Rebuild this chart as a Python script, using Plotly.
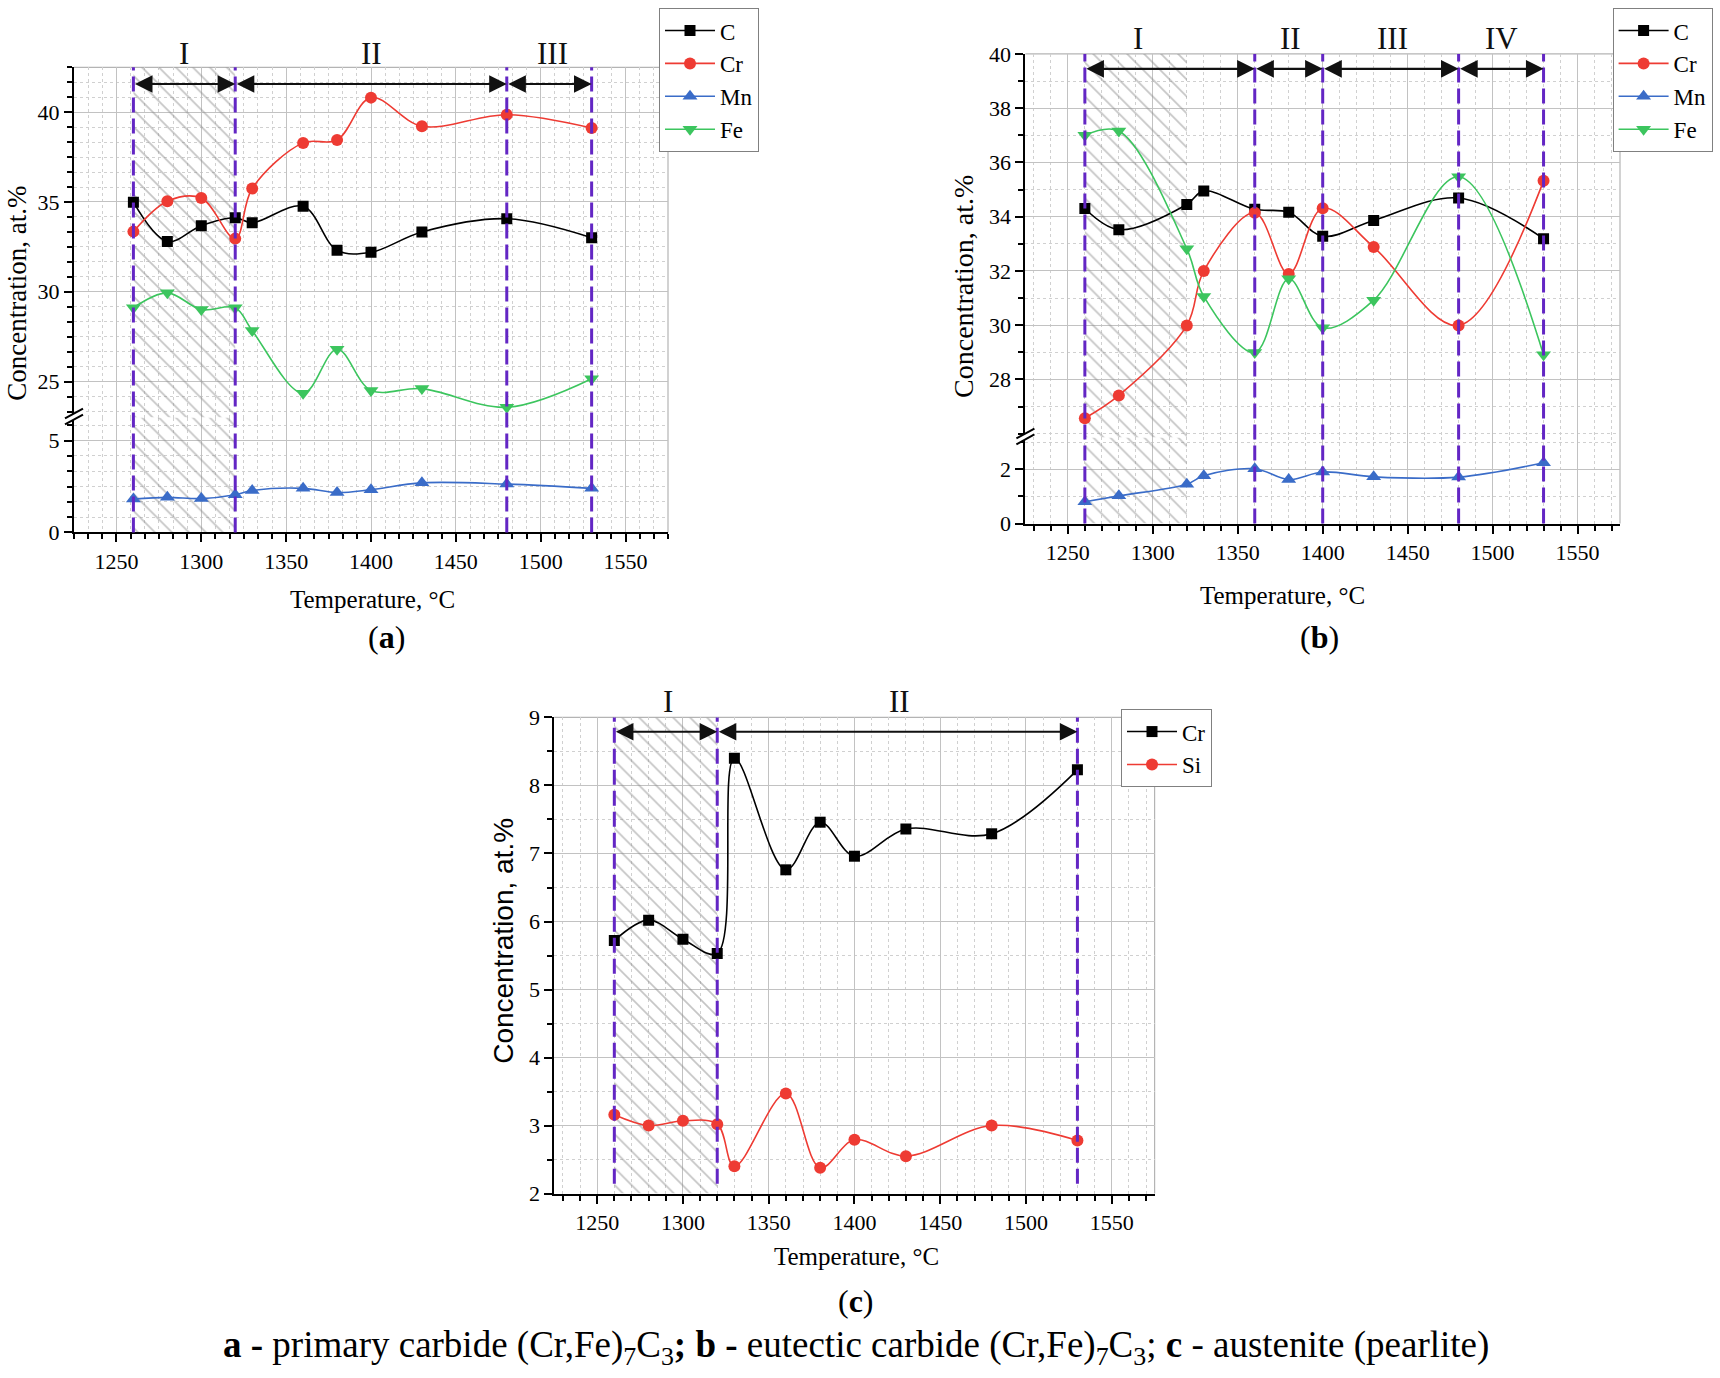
import plotly.graph_objects as go

W, H = 1720, 1378

# ---------------- data ----------------
temps_a = [1260, 1280, 1300, 1320, 1330, 1360, 1380, 1400, 1430, 1480, 1530]
C_a = [34.99, 32.80, 33.68, 34.12, 33.84, 34.76, 32.31, 32.20, 33.33, 34.07, 33.01]
Cr_a = [33.35, 35.04, 35.22, 32.96, 35.75, 38.29, 38.45, 40.81, 39.22, 39.86, 39.12]
Mn_a = [1.82, 1.91, 1.84, 2.05, 2.28, 2.40, 2.17, 2.33, 2.70, 2.63, 2.40]
Fe_a = [29.11, 29.94, 29.01, 29.11, 27.84, 24.35, 26.80, 24.51, 24.61, 23.57, 25.16]

temps_b = [1260, 1280, 1320, 1330, 1360, 1380, 1400, 1430, 1480, 1530]
C_b = [34.30, 33.52, 34.45, 34.95, 34.27, 34.16, 33.28, 33.86, 34.69, 33.19]
Cr_b = [26.57, 27.41, 29.99, 32.00, 34.14, 31.89, 34.31, 32.88, 29.99, 35.32]
Mn_b = [0.80, 1.02, 1.45, 1.76, 2.02, 1.62, 1.90, 1.72, 1.71, 2.24]
Fe_b = [37.00, 37.16, 32.82, 31.06, 28.99, 31.71, 29.90, 30.92, 35.47, 28.91]

temps_c = [1260, 1280, 1300, 1320, 1330, 1360, 1380, 1400, 1430, 1480, 1530]
Cr_c = [5.72, 6.02, 5.74, 5.53, 8.40, 6.76, 7.46, 6.96, 7.36, 7.29, 8.23]
Si_c = [3.16, 3.00, 3.07, 3.02, 2.40, 3.47, 2.38, 2.79, 2.55, 3.00, 2.78]

bounds_a = [1260, 1320, 1480, 1530]
stages_a = ["I", "II", "III"]
stage_x_a = [1290, 1400, 1507]
bounds_b = [1260, 1360, 1400, 1480, 1530]
stages_b = ["I", "II", "III", "IV"]
stage_x_b = [1291, 1381, 1441, 1505]
bounds_c = [1260, 1320, 1530]
stages_c = ["I", "II"]
stage_x_c = [1291, 1426]
hatch_span = [1260, 1320]

x_ticks = [1250, 1300, 1350, 1400, 1450, 1500, 1550]
y_ticks_a_up = [25, 30, 35, 40]
y_ticks_a_lo = [0, 5]
y_ticks_b_up = [28, 30, 32, 34, 36, 38, 40]
y_ticks_b_lo = [0, 2]
y_ticks_c = [2, 3, 4, 5, 6, 7, 8, 9]

# ---------------- style ----------------
SERIF = "Liberation Serif"
SANS = "Liberation Sans"
COL = {"C": "#000000", "Cr": "#EE3B33", "Mn": "#3A6CC8", "Fe": "#3CC55E", "Si": "#EE3B33"}
SYM = {"C": "square", "Cr": "circle", "Mn": "triangle-up", "Fe": "triangle-down", "Si": "circle"}
MSIZE = {"C": 11, "Cr": 12, "Mn": 13, "Fe": 13, "Si": 12}
PURPLE = "#6326C4"


def fx(p):
    return p / W


def fy(p):
    return 1 - p / H


XR = [1225, 1575]
# panel geometry (pixels)
A_x = [74, 668]
A_top, A_brk, A_bot = 56.3, 413, 530
A_up_rng, A_lo_rng = [23, 42.5], [0, 6.26]
B_x = [1025.4, 1620]
B_top, B_brk, B_bot = 42.7, 433.3, 521
B_up_rng, B_lo_rng = [25.86, 40], [0, 3.17]
C_x = [554.3, 1154.6]
C_top, C_bot = 718.5, 1203.4
C_rng = [2, 9]

tickfont = dict(family=SERIF, size=22, color="black")


def xax(dom, anchor, minor_dtick):
    return dict(domain=[fx(dom[0]), fx(dom[1])], range=XR, anchor=anchor,
                tickmode="array", tickvals=x_ticks, ticks="outside", ticklen=8,
                tickwidth=2, tickcolor="black", showline=True, linecolor="black",
                linewidth=2, showgrid=True, gridcolor="#c2c2c2", gridwidth=1,
                zeroline=False, tickfont=tickfont,
                minor=dict(tickmode="linear", tick0=1250, dtick=minor_dtick,
                           ticks="outside", ticklen=5, tickwidth=1.5,
                           tickcolor="black", showgrid=True, gridcolor="#d0d0d0",
                           griddash="dot", gridwidth=1))


def yax(top, bot, rng, tv, anchor, minor_dtick):
    return dict(domain=[fy(bot), fy(top)], range=rng, anchor=anchor,
                tickmode="array", tickvals=tv, ticks="outside", ticklen=8,
                tickwidth=2, tickcolor="black", showline=True, linecolor="black",
                linewidth=2, showgrid=True, gridcolor="#c2c2c2", gridwidth=1,
                zeroline=False, tickfont=tickfont,
                minor=dict(tickmode="linear", tick0=0, dtick=minor_dtick,
                           ticks="outside", ticklen=5, tickwidth=1.5,
                           tickcolor="black", showgrid=True, gridcolor="#d0d0d0",
                           griddash="dot", gridwidth=1))


fig = go.Figure()


def hatch(xa, ya, rng):
    h0, h1 = hatch_span
    fig.add_trace(go.Scatter(
        x=[h0, h1, h1, h0, h0], y=[rng[0], rng[0], rng[1], rng[1], rng[0]],
        xaxis=xa, yaxis=ya, mode="lines", line=dict(width=0),
        fill="toself", fillcolor="rgba(0,0,0,0)",
        fillpattern=dict(shape="\\", fgcolor="#8a8a8a", bgcolor="rgba(255,255,255,0)",
                         size=12, solidity=0.14),
        showlegend=False, hoverinfo="skip"))


def series(name, xs, ys, xa, ya, leg):
    fig.add_trace(go.Scatter(
        x=xs, y=ys, name=name, xaxis=xa, yaxis=ya, legend=leg,
        mode="lines+markers", line=dict(color=COL[name], width=1.6, shape="spline", smoothing=1.0),
        marker=dict(symbol=SYM[name], size=MSIZE[name], color=COL[name])))


# panel a
hatch("x", "y2", A_up_rng)
hatch("x", "y", A_lo_rng)
series("C", temps_a, C_a, "x", "y2", "legend")
series("Cr", temps_a, Cr_a, "x", "y2", "legend")
series("Mn", temps_a, Mn_a, "x", "y", "legend")
series("Fe", temps_a, Fe_a, "x", "y2", "legend")
# panel b
hatch("x2", "y4", B_up_rng)
hatch("x2", "y3", B_lo_rng)
series("C", temps_b, C_b, "x2", "y4", "legend2")
series("Cr", temps_b, Cr_b, "x2", "y4", "legend2")
series("Mn", temps_b, Mn_b, "x2", "y3", "legend2")
series("Fe", temps_b, Fe_b, "x2", "y4", "legend2")
# panel c
hatch("x3", "y5", C_rng)
fig.add_trace(go.Scatter(x=temps_c, y=Cr_c, name="Cr", xaxis="x3", yaxis="y5", legend="legend3",
                         mode="lines+markers", line=dict(color="#000000", width=1.6, shape="spline"),
                         marker=dict(symbol="square", size=11, color="#000000")))
fig.add_trace(go.Scatter(x=temps_c, y=Si_c, name="Si", xaxis="x3", yaxis="y5", legend="legend3",
                         mode="lines+markers", line=dict(color=COL["Si"], width=1.6, shape="spline"),
                         marker=dict(symbol="circle", size=12, color=COL["Si"])))

shapes = []
annotations = []


def vlines(bounds, xr, top, bot):
    for b in bounds:
        shapes.append(dict(type="line", xref=xr, yref="paper", x0=b, x1=b, y0=fy(bot), y1=fy(top),
                           line=dict(color=PURPLE, width=3, dash="15px,6px"), layer="above"))


def frame(xdom, top, bot):
    shapes.append(dict(type="line", xref="paper", yref="paper", x0=fx(xdom[0]), x1=fx(xdom[1]),
                       y0=fy(top), y1=fy(top), line=dict(color="#b4b4b4", width=1.2), layer="below"))
    shapes.append(dict(type="line", xref="paper", yref="paper", x0=fx(xdom[1]), x1=fx(xdom[1]),
                       y0=fy(top), y1=fy(bot), line=dict(color="#b4b4b4", width=1.2), layer="below"))


def arrows(bounds, yv, xr, yr):
    for b0, b1 in zip(bounds[:-1], bounds[1:]):
        annotations.append(dict(x=b1, y=yv, ax=b0, ay=yv, xref=xr, yref=yr, axref=xr, ayref=yr,
                                text="", showarrow=True, arrowhead=2, startarrowhead=2,
                                arrowside="end+start", arrowsize=1.6, startarrowsize=1.6,
                                arrowwidth=2.2, arrowcolor="#111111", standoff=0, startstandoff=0))


def stages(names, xs, xr, ypx):
    for n, xv in zip(names, xs):
        annotations.append(dict(x=xv, y=fy(ypx), xref=xr, yref="paper", text=n, showarrow=False,
                                font=dict(family=SERIF, size=31, color="#111111"),
                                xanchor="center", yanchor="middle"))


def brk(xpx, ypx):
    # white gap + double slash on the y axis
    shapes.append(dict(type="path", xref="paper", yref="paper",
                       path="M %f,%f L %f,%f L %f,%f L %f,%f Z" % (
                           fx(xpx - 9), fy(ypx + 1), fx(xpx + 9), fy(ypx - 9),
                           fx(xpx + 9), fy(ypx - 3), fx(xpx - 9), fy(ypx + 7)),
                       fillcolor="white", line=dict(width=0), layer="above"))
    for off in (0, 6):
        shapes.append(dict(type="line", xref="paper", yref="paper",
                           x0=fx(xpx - 9), y0=fy(ypx + 1 + off), x1=fx(xpx + 9), y1=fy(ypx - 9 + off),
                           line=dict(color="black", width=2), layer="above"))


frame(A_x, A_top, A_bot)
frame(B_x, B_top, B_bot)
frame(C_x, C_top, C_bot)
vlines(bounds_a, "x", A_top, A_bot)
vlines(bounds_b, "x2", B_top, B_bot)
vlines(bounds_c, "x3", C_top, C_bot - 10)
arrows(bounds_a, 41.57, "x", "y2")
arrows(bounds_b, 39.45, "x2", "y4")
arrows(bounds_c, 8.79, "x3", "y5")
stages(stages_a, stage_x_a, "x", 42.7)
stages(stages_b, stage_x_b, "x2", 26.7)
stages(stages_c, stage_x_c, "x3", 702)
brk(A_x[0], A_brk)
brk(B_x[0], B_brk)


def text(x, y, s, size, fam=SERIF, angle=0):
    annotations.append(dict(x=fx(x), y=fy(y), xref="paper", yref="paper", text=s, showarrow=False,
                            textangle=angle, font=dict(family=fam, size=size, color="black"),
                            xanchor="center", yanchor="middle"))


text(17, 287, "Concentration, at.%", 27, SERIF, -90)
text(964, 280, "Concentration, at.%", 28, SERIF, -90)
text(504, 946, "Concentration, at.%", 28, SANS, -90)
text(372, 598, "Temperature, °C", 25)
text(1282, 594, "Temperature, °C", 25)
text(856, 1267, "Temperature, °C", 25)
text(386, 637, "(<b>a</b>)", 32)
text(1319, 637, "(<b>b</b>)", 32)
text(856, 1313, "(<b>c</b>)", 32)
text(856, 1360,
     "<b>a -</b> primary carbide (Cr,Fe)<sub>7</sub>C<sub>3</sub><b>; b -</b> eutectic carbide "
     "(Cr,Fe)<sub>7</sub>C<sub>3</sub>; <b>c</b> - austenite (pearlite)", 37)

leg_common = dict(xanchor="left", yanchor="top", bgcolor="white", bordercolor="#808080",
                  borderwidth=1, font=dict(family=SERIF, size=23, color="black"),
                  tracegroupgap=0, itemwidth=50)

fig.update_layout(
    width=W, height=H, margin=dict(l=0, r=0, t=0, b=0),
    paper_bgcolor="white", plot_bgcolor="white",
    xaxis=xax(A_x, "y", 50 / 6),
    yaxis=yax(A_brk, A_bot, A_lo_rng, y_ticks_a_lo, "x", 5 / 6),
    yaxis2=yax(A_top, A_brk, A_up_rng, y_ticks_a_up, "x", 5 / 6),
    xaxis2=xax(B_x, "y3", 10),
    yaxis3=yax(B_brk, B_bot, B_lo_rng, y_ticks_b_lo, "x2", 1),
    yaxis4=yax(B_top, B_brk, B_up_rng, y_ticks_b_up, "x2", 1),
    xaxis3=xax(C_x, "y5", 10),
    yaxis5=yax(C_top, C_bot, C_rng, y_ticks_c, "x3", 0.5),
    legend=dict(x=fx(659), y=fy(-4), **leg_common),
    legend2=dict(x=fx(1612.6), y=fy(-4), **leg_common),
    legend3=dict(x=fx(1121), y=fy(710), **leg_common),
    shapes=shapes, annotations=annotations,
)

fig.write_html("out.html")
